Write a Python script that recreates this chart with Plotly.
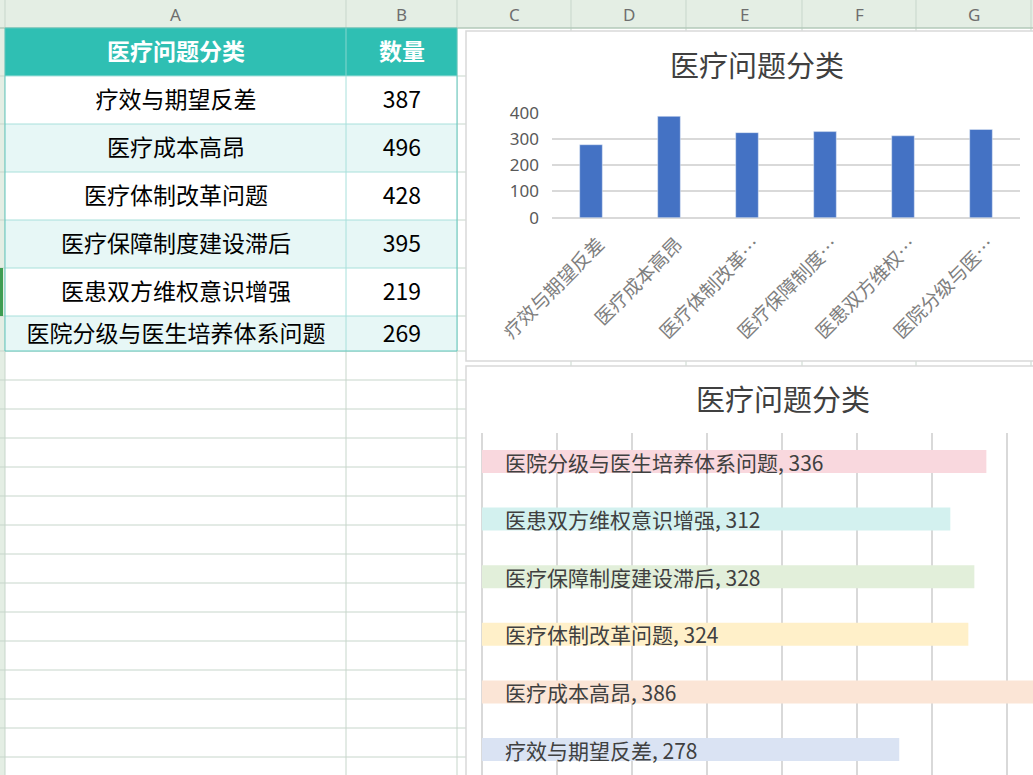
import plotly.graph_objects as go

W, H = 1033, 775

# sheet table (columns A / B)
table_header = ["医疗问题分类", "数量"]
table_names = ["疗效与期望反差", "医疗成本高昂", "医疗体制改革问题",
               "医疗保障制度建设滞后", "医患双方维权意识增强", "医院分级与医生培养体系问题"]
table_counts = [387, 496, 428, 395, 219, 269]

# values plotted in both charts
chart_names = ["疗效与期望反差", "医疗成本高昂", "医疗体制改革问题",
               "医疗保障制度建设滞后", "医患双方维权意识增强", "医院分级与医生培养体系问题"]
chart_values = [278, 386, 324, 328, 312, 336]
chart_title = "医疗问题分类"

col_letters = ["A", "B", "C", "D", "E", "F", "G"]

CJK = "Noto Sans CJK SC"


def px_x(v):
    return v / W


def px_y(v):
    return 1 - v / H


# sheet geometry in screen pixels
col_edges = [5, 346, 457, 571, 686, 802, 916, 1031]
row_heights = [48] * 7 + [35]
row_edges = [28]
for h in row_heights[1:]:
    row_edges.append(row_edges[-1] + h)
while row_edges[-1] + 29 < H + 29:
    row_edges.append(row_edges[-1] + 29)

grid_col = "#C7D6CB"
shapes = []
# column header band and row header strip
shapes.append(dict(type="rect", xref="paper", yref="paper", x0=0, x1=1, y0=px_y(0), y1=px_y(28),
                   fillcolor="#E4EEE4", line_width=0, layer="below"))
shapes.append(dict(type="rect", xref="paper", yref="paper", x0=0, x1=px_x(5), y0=px_y(28), y1=0,
                   fillcolor="#E4EEE4", line_width=0, layer="below"))
for ry in row_edges:
    shapes.append(dict(type="line", xref="paper", yref="paper", x0=0, x1=1, y0=px_y(ry), y1=px_y(ry),
                       line=dict(color=grid_col, width=1), layer="below"))
for cx in col_edges:
    shapes.append(dict(type="line", xref="paper", yref="paper", x0=px_x(cx), x1=px_x(cx), y0=1, y1=0,
                       line=dict(color=grid_col, width=1), layer="below"))
shapes.append(dict(type="line", xref="paper", yref="paper", x0=0, x1=1, y0=px_y(28), y1=px_y(28),
                   line=dict(color="#A9C3B0", width=1), layer="below"))
# selected row marker
shapes.append(dict(type="line", xref="paper", yref="paper", x0=px_x(1.5), x1=px_x(1.5),
                   y0=px_y(268), y1=px_y(316), line=dict(color="#3E9D52", width=3), layer="below"))

# chart boxes (right / bottom edges run off the sheet view)
shapes.append(dict(type="rect", xref="paper", yref="paper", x0=px_x(466), x1=px_x(1050),
                   y0=px_y(361), y1=px_y(31), fillcolor="white",
                   line=dict(color="#D9D9D9", width=1.5), layer="below"))
shapes.append(dict(type="rect", xref="paper", yref="paper", x0=px_x(466), x1=px_x(1100),
                   y0=px_y(820), y1=px_y(366), fillcolor="white",
                   line=dict(color="#D9D9D9", width=1.5), layer="below"))

# table borders
for ry in row_edges[1:7]:
    shapes.append(dict(type="line", xref="paper", yref="paper", x0=px_x(5), x1=px_x(457),
                       y0=px_y(ry), y1=px_y(ry), line=dict(color="#A8E0DB", width=1)))
shapes.append(dict(type="line", xref="paper", yref="paper", x0=px_x(346), x1=px_x(346),
                   y0=px_y(76), y1=px_y(351), line=dict(color="#A8E0DB", width=1)))
shapes.append(dict(type="line", xref="paper", yref="paper", x0=px_x(346), x1=px_x(346),
                   y0=px_y(28), y1=px_y(76), line=dict(color="#86D6CE", width=1)))
shapes.append(dict(type="rect", xref="paper", yref="paper", x0=px_x(5), x1=px_x(457),
                   y0=px_y(351), y1=px_y(28), line=dict(color="#5EC6BC", width=1)))

fig = go.Figure()

# ---- table as heatmap cells
z = [[2, 2]] + [[i % 2, i % 2] for i in range(len(table_names))]
cell_text = [[f"<span style='color:#ffffff'><b>{h}</b></span>" for h in table_header]]
cell_text += [[n, str(c)] for n, c in zip(table_names, table_counts)]
tbl_x = [0, 341, 452]
tbl_y = [0]
for h in row_heights[:7]:
    tbl_y.append(tbl_y[-1] + h)
tbl_y[-1] = 323
fig.add_trace(go.Heatmap(z=z, x=tbl_x, y=tbl_y, text=cell_text, texttemplate="%{text}",
                         textfont=dict(family=CJK, size=23, color="#000000"),
                         colorscale=[[0, "#FFFFFF"], [0.5, "#E7F7F6"], [1, "#2FBFB3"]],
                         zmin=0, zmax=2, showscale=False, hoverinfo="skip",
                         xaxis="x3", yaxis="y3"))


# ---- chart 1: vertical bars
def short_label(s):
    return s if len(s) <= 7 else s[:6] + "…"


fig.add_trace(go.Bar(x=chart_names, y=chart_values, width=0.29, marker_color="#4472C4",
                     hoverinfo="skip", xaxis="x", yaxis="y"))

# ---- chart 2: horizontal bars
bar_colors = ["#DAE3F3", "#FBE5D6", "#FFF0C9", "#E2EFDA", "#D3F1EF", "#F9D8DE"]
fig.add_trace(go.Bar(x=chart_values, y=chart_names, orientation="h", width=0.4,
                     marker=dict(color=bar_colors, line_width=0),
                     hoverinfo="skip", xaxis="x2", yaxis="y2"))

annotations = []
for i, letter in enumerate(col_letters):
    annotations.append(dict(xref="paper", yref="paper", x=px_x((col_edges[i] + col_edges[i + 1]) / 2),
                            y=px_y(14), text=letter, showarrow=False,
                            xanchor="center", yanchor="middle",
                            font=dict(family="Noto Sans", size=17, color="#6E6E6E")))
annotations.append(dict(xref="paper", yref="paper", x=px_x(757), y=px_y(64), text=chart_title,
                        showarrow=False, xanchor="center", yanchor="middle",
                        font=dict(family=CJK, size=29, color="#404040")))
annotations.append(dict(xref="paper", yref="paper", x=px_x(783), y=px_y(398), text=chart_title,
                        showarrow=False, xanchor="center", yanchor="middle",
                        font=dict(family=CJK, size=29, color="#404040")))
for n, v in zip(chart_names, chart_values):
    annotations.append(dict(xref="x2", yref="y2", x=0, y=n, text=f"{n}, {v}", showarrow=False,
                            xanchor="left", yanchor="middle", xshift=21,
                            font=dict(family=CJK, size=21, color="#404040")))

x2_scale = 75.1 / 50  # pixels per unit

fig.update_layout(
    width=W, height=H, autosize=False,
    margin=dict(l=0, r=0, t=0, b=0, pad=0, autoexpand=False),
    paper_bgcolor="white",
    plot_bgcolor="rgba(0,0,0,0)",
    showlegend=False,
    shapes=shapes,
    annotations=annotations,
    xaxis=dict(domain=[px_x(552), px_x(1020)], type="category",
               categoryorder="array", categoryarray=chart_names,
               tickmode="array", tickvals=chart_names,
               ticktext=[short_label(s) for s in chart_names],
               tickangle=-45, tickfont=dict(family=CJK, size=19, color="#7F7F7F"),
               ticklabelstandoff=11, ticklabelshift=8,
               showgrid=False, showline=False, ticks="", automargin=False, fixedrange=True),
    yaxis=dict(domain=[px_y(217.7), px_y(112.7)], range=[0, 400], dtick=100,
               gridcolor="#D9D9D9", gridwidth=1.5, zeroline=True,
               zerolinecolor="#D9D9D9", zerolinewidth=1.5,
               tickfont=dict(family="Noto Sans", size=17, color="#595959"),
               ticklabelstandoff=12, showline=False, automargin=False, fixedrange=True),
    xaxis2=dict(domain=[px_x(481.7), 1], range=[0, (W - 481.7) / x2_scale],
                dtick=50, tick0=0, showgrid=True, gridcolor="#D9D9D9", gridwidth=1.5,
                zeroline=True, zerolinecolor="#D9D9D9", zerolinewidth=1.5,
                showticklabels=False, showline=False, anchor="y2", automargin=False,
                fixedrange=True),
    yaxis2=dict(domain=[0, px_y(432.7)], type="category",
                categoryorder="array", categoryarray=chart_names,
                range=[-0.5 + (778.3 - H) / 57.6, 5.5],
                showticklabels=False, showgrid=False, showline=False, ticks="",
                anchor="x2", automargin=False, fixedrange=True),
    xaxis3=dict(domain=[px_x(5), px_x(457)], range=[0, 452], visible=False,
                anchor="y3", automargin=False, fixedrange=True),
    yaxis3=dict(domain=[px_y(351), px_y(28)], range=[323, 0], visible=False,
                anchor="x3", automargin=False, fixedrange=True),
)

# the page body has a default 8px margin; drop it so the figure sits at the window corner
fig.write_html("out.html", config={"displayModeBar": False},
               post_script="document.body.style.margin='0px';")
